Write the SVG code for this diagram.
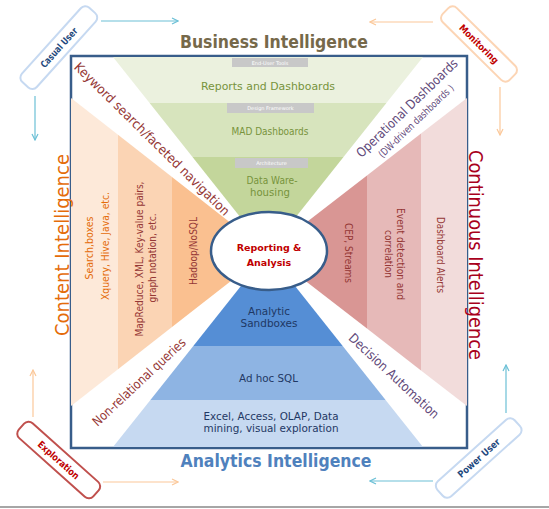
<svg xmlns="http://www.w3.org/2000/svg" width="549" height="509" viewBox="0 0 549 509">
<defs>
<style>
.t{font-family:"DejaVu Sans","Liberation Sans",sans-serif;}
.c{text-anchor:middle;dominant-baseline:central;}
.g{fill:#77933c;font-size:11px;}
.b{fill:#1f3864;font-size:11px;}
.r{fill:#953735;font-size:10px;}
.o{fill:#e46c0a;font-size:10px;}
.tag{fill:#c8c8c8;}
.tagt{fill:#ffffff;font-size:5px;}
.diag{font-size:13px;}
.box{fill:#ffffff;stroke-width:2;}
.bt{font-size:9.5px;font-weight:bold;}
.ab{stroke:#6cc0d6;stroke-width:1.2;fill:none;}
.ap{stroke:#fbc89a;stroke-width:1.2;fill:none;}
</style>
<marker id="mb" markerWidth="8" markerHeight="8" refX="7" refY="4" orient="auto" markerUnits="userSpaceOnUse">
<path d="M1,1 L7,4 L1,7" fill="none" stroke="#6cc0d6" stroke-width="1.2"/>
</marker>
<marker id="mp" markerWidth="8" markerHeight="8" refX="7" refY="4" orient="auto" markerUnits="userSpaceOnUse">
<path d="M1,1 L7,4 L1,7" fill="none" stroke="#fbc89a" stroke-width="1.2"/>
</marker>
</defs>
<rect x="0" y="0" width="549" height="509" fill="#ffffff"/>
<rect x="0" y="506" width="549" height="2" fill="#a6a6a6"/>

<g id="frame">
<rect x="71" y="56" width="396" height="392" fill="#ffffff" stroke="#385d8a" stroke-width="2.5"/>
</g>

<g id="business-intelligence">
<polygon points="113,57 423,57 386.4,103 149.6,103" fill="#ebf1de"/>
<polygon points="149.6,103 386.4,103 343.5,157 192.5,157" fill="#d7e4bd"/>
<polygon points="192.5,157 343.5,157 268,252" fill="#c3d69b"/>
<rect class="tag" x="232" y="58" width="76" height="9"/>
<text class="t c tagt" x="270" y="62.5">End-User Tools</text>
<rect class="tag" x="227" y="103" width="87" height="10"/>
<text class="t c tagt" x="270.5" y="108">Design Framework</text>
<rect class="tag" x="235" y="158" width="73" height="10"/>
<text class="t c tagt" x="271.5" y="163">Architecture</text>
<text class="t g" x="268" y="90" text-anchor="middle" textLength="134" lengthAdjust="spacingAndGlyphs">Reports and Dashboards</text>
<text class="t g" x="270" y="135" text-anchor="middle" textLength="77" lengthAdjust="spacingAndGlyphs">MAD Dashboards</text>
<text class="t g" x="272" y="184" text-anchor="middle" textLength="51" lengthAdjust="spacingAndGlyphs">Data Ware-</text>
<text class="t g" x="270" y="196" text-anchor="middle" textLength="40" lengthAdjust="spacingAndGlyphs">housing</text>
<text class="t" x="274" y="48" text-anchor="middle" font-size="17" font-weight="bold" fill="#76694a" textLength="188" lengthAdjust="spacingAndGlyphs">Business Intelligence</text>
</g>

<g id="content-intelligence">
<polygon points="71,98 118,134.7 118,369.3 71,406" fill="#fde9d9"/>
<polygon points="118,134.7 172,177 172,327 118,369.3" fill="#fbd4b4"/>
<polygon points="172,177 268,252 172,327" fill="#fac090"/>
<text class="t c o" transform="translate(89,248) rotate(-90)" textLength="63" lengthAdjust="spacingAndGlyphs">Search,boxes</text>
<text class="t c o" transform="translate(105,246) rotate(-90)" textLength="108" lengthAdjust="spacingAndGlyphs">Xquery, Hive, Java, etc.</text>
<text class="t c r" transform="translate(139,259) rotate(-90)" textLength="155" lengthAdjust="spacingAndGlyphs">MapReduce, XML, Key-value pairs,</text>
<text class="t c r" transform="translate(152,258) rotate(-90)" textLength="89" lengthAdjust="spacingAndGlyphs">graph notation, etc.</text>
<text class="t c r" transform="translate(193,251) rotate(-90)" textLength="68" lengthAdjust="spacingAndGlyphs">Hadoop/NoSQL</text>
<text class="t c" transform="translate(62,245) rotate(-90)" font-size="19" fill="#e46c0a" textLength="182" lengthAdjust="spacingAndGlyphs">Content Intelligence</text>
</g>

<g id="continuous-intelligence">
<polygon points="467,98 421,133.6 421,370.4 467,406" fill="#f2dcdb"/>
<polygon points="421,133.6 367,175.4 367,328.6 421,370.4" fill="#e6b9b8"/>
<polygon points="367,175.4 268,252 367,328.6" fill="#d99694"/>
<text class="t c r" transform="translate(348,253) rotate(90)" textLength="60" lengthAdjust="spacingAndGlyphs">CEP, Streams</text>
<text class="t c r" transform="translate(400,254) rotate(90)" textLength="92" lengthAdjust="spacingAndGlyphs">Event detection and</text>
<text class="t c r" transform="translate(388,254) rotate(90)" textLength="48" lengthAdjust="spacingAndGlyphs">correlation</text>
<text class="t c r" transform="translate(440,255) rotate(90)" textLength="76" lengthAdjust="spacingAndGlyphs">Dashboard Alerts</text>
<text class="t c" transform="translate(476,255) rotate(90)" font-size="19" fill="#a8001c" textLength="210" lengthAdjust="spacingAndGlyphs">Continuous Intelligence</text>
</g>

<g id="analytics-intelligence">
<polygon points="113,447 423,447 385.6,400 150.4,400" fill="#c6d9f1"/>
<polygon points="150.4,400 385.6,400 342.7,346 193.3,346" fill="#8eb4e3"/>
<polygon points="193.3,346 342.7,346 268,252" fill="#558ed5"/>
<text class="t b" x="269" y="315" text-anchor="middle" fill="#244062" textLength="42" lengthAdjust="spacingAndGlyphs">Analytic</text>
<text class="t b" x="269" y="327" text-anchor="middle" fill="#244062" textLength="57" lengthAdjust="spacingAndGlyphs">Sandboxes</text>
<text class="t b" x="268.5" y="382" text-anchor="middle" fill="#0f243e" textLength="59" lengthAdjust="spacingAndGlyphs">Ad hoc SQL</text>
<text class="t b" x="271" y="420" text-anchor="middle" textLength="135" lengthAdjust="spacingAndGlyphs">Excel, Access, OLAP, Data</text>
<text class="t b" x="271" y="432" text-anchor="middle" textLength="135" lengthAdjust="spacingAndGlyphs">mining, visual exploration</text>
<text class="t" x="276" y="467" text-anchor="middle" font-size="17" font-weight="bold" fill="#4f81bd" textLength="191" lengthAdjust="spacingAndGlyphs">Analytics Intelligence</text>
</g>

<g id="reporting-analysis">
<ellipse cx="269" cy="251" rx="58" ry="39" fill="#ffffff" stroke="#385d8a" stroke-width="2.5"/>
<text class="t" x="269" y="251" text-anchor="middle" font-size="9.5" font-weight="bold" fill="#c00000">Reporting &amp;</text>
<text class="t" x="269" y="266" text-anchor="middle" font-size="9.5" font-weight="bold" fill="#c00000">Analysis</text>
</g>

<g id="diagonal-labels">
<text class="t c diag" transform="translate(152,139) rotate(44.5)" fill="#953735" textLength="212" lengthAdjust="spacingAndGlyphs">Keyword search/faceted navigation</text>
<text class="t c diag" transform="translate(407,108) rotate(-44)" fill="#5f497a" textLength="135" lengthAdjust="spacingAndGlyphs">Operational Dashboards</text>
<text class="t c" transform="translate(416,121) rotate(-44)" font-size="10" fill="#5f497a" textLength="100" lengthAdjust="spacingAndGlyphs">(DW-driven dashboards )</text>
<text class="t c diag" transform="translate(394,376) rotate(43)" fill="#5f497a" textLength="118" lengthAdjust="spacingAndGlyphs">Decision Automation</text>
<text class="t c diag" transform="translate(139,382) rotate(-43)" fill="#953735" textLength="122" lengthAdjust="spacingAndGlyphs">Non-relational queries</text>
</g>

<g id="casual-user" transform="translate(58.8,47.6) rotate(-48)">
<rect class="box" x="-50" y="-10" width="100" height="20" rx="6" stroke="#c6d9f1"/>
<text class="t c bt" x="0" y="0" fill="#1f497d" textLength="50" lengthAdjust="spacingAndGlyphs">Casual User</text>
</g>
<g id="monitoring" transform="translate(479,44) rotate(44.6)">
<rect class="box" x="-47" y="-10" width="94" height="20" rx="6" stroke="#fcd5b5"/>
<text class="t c bt" x="0" y="0" fill="#c00000" textLength="51" lengthAdjust="spacingAndGlyphs">Monitoring</text>
</g>
<g id="exploration" transform="translate(58.7,460) rotate(41.8)">
<rect class="box" x="-50" y="-10" width="100" height="20" rx="6" stroke="#c0504d"/>
<text class="t c bt" x="0" y="0" fill="#c00000" textLength="52" lengthAdjust="spacingAndGlyphs">Exploration</text>
</g>
<g id="power-user" transform="translate(478.7,458) rotate(-42)">
<rect class="box" x="-52" y="-10" width="104" height="20" rx="6" stroke="#c6d9f1"/>
<text class="t c bt" x="0" y="0" fill="#1f497d" textLength="53" lengthAdjust="spacingAndGlyphs">Power User</text>
</g>

<g id="connectors">
<line class="ab" x1="101" y1="21" x2="178" y2="21" marker-end="url(#mb)"/>
<line class="ab" x1="35" y1="96" x2="35" y2="140" marker-end="url(#mb)"/>
<line class="ap" x1="433" y1="22" x2="370" y2="22" marker-end="url(#mp)"/>
<line class="ap" x1="500" y1="87" x2="500" y2="135" marker-end="url(#mp)"/>
<line class="ap" x1="33" y1="417" x2="33" y2="370" marker-end="url(#mp)"/>
<line class="ap" x1="103" y1="482" x2="178" y2="482" marker-end="url(#mp)"/>
<line class="ab" x1="433" y1="481" x2="370" y2="481" marker-end="url(#mb)"/>
<line class="ab" x1="506" y1="413" x2="506" y2="365" marker-end="url(#mb)"/>
</g>
</svg>
